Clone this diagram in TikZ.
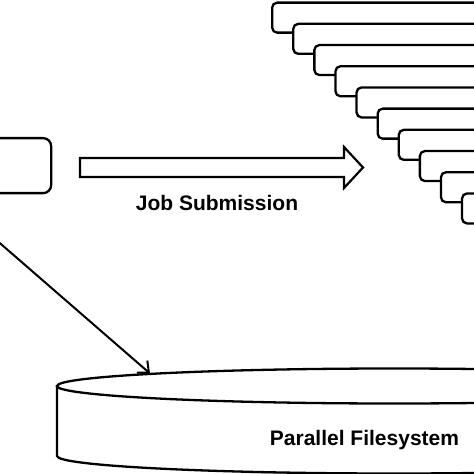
\documentclass[tikz,border=0pt]{standalone}
\usepackage{fontspec}
\setmainfont{Liberation Sans}
\usetikzlibrary{arrows.meta}
\begin{document}
\begin{tikzpicture}[x=1bp,y=-1bp,
  lw/.style={line width=2.3bp},
  jobbox/.style={lw,draw=black,fill=white,rectangle,rounded corners=5bp,
    minimum width=400bp,minimum height=30bp,anchor=north west,inner sep=0pt},
  clientbox/.style={lw,draw=black,fill=white,rectangle,rounded corners=8bp,
    minimum width=170bp,minimum height=55bp,anchor=north west,inner sep=0pt},
  lbl/.style={font=\fontsize{21bp}{25bp}\selectfont\bfseries,anchor=base,inner sep=0pt},
  blockarrow/.style={line width=2.2bp,draw=black,fill=white,line join=miter},
  conn/.style={line width=2bp,-{Straight Barb[length=9bp,width=16bp,line width=2bp]}}]
\useasboundingbox (0,0) rectangle (474,474);
\clip (0,0) rectangle (474,474);
% job stair boxes
\foreach \k in {0,...,9}{
  \node[jobbox] (job\k) at ({271+21.1*\k},{1.5+21.2*\k}) {};
}
% client box
\node[clientbox] (client) at (-120,137) {};
% block arrow: job submission
\coordinate (a1) at (80,158);
\coordinate (a2) at (344,158);
\coordinate (a3) at (344,147);
\coordinate (a4) at (363,167.5);
\coordinate (a5) at (344,188);
\coordinate (a6) at (344,177);
\coordinate (a7) at (80,177);
\draw[blockarrow] (a1) -- (a2) -- (a3) -- (a4) -- (a5) -- (a6) -- (a7) -- cycle;
\node[lbl] (sublbl) at (217,210.5) {Job Submission};
% shadow below cylinder
\shade[left color=white,right color=black,middle color=black!45] (235,467) rectangle (474,475);
% cylinder (parallel filesystem)
\fill[white] (57,386) -- (57,456) arc[start angle=180,end angle=0,x radius=337,y radius=17.5]
  -- (731,386) -- cycle;
\draw[lw] (57,386) -- (57,456) arc[start angle=180,end angle=0,x radius=337,y radius=17.5]
  -- (731,386);
\draw[lw] (394,386) ellipse[x radius=337,y radius=17.5];
\coordinate (fstop) at (150,373.5);
\node[lbl] (fslbl) at (364.5,445) {Parallel Filesystem};
% connector from client to filesystem
\coordinate (cstart) at (-59,192);
\draw[conn] (cstart) -- (fstop);
\end{tikzpicture}
\end{document}
